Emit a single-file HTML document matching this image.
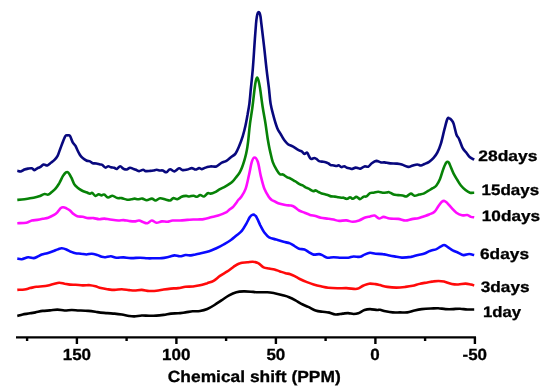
<!DOCTYPE html>
<html><head><meta charset="utf-8"><style>
html,body{margin:0;padding:0;background:#fff;}
body{width:550px;height:392px;overflow:hidden;}
svg{display:block;}
text{font-family:"Liberation Sans",Arial,sans-serif;font-weight:bold;fill:#000;stroke:#000;stroke-width:0.3px;text-rendering:geometricPrecision;}
</style></head><body>
<svg width="550" height="392" viewBox="0 0 550 392">
<rect width="550" height="392" fill="#fff"/>
<g fill="none" stroke-width="2.6" stroke-linejoin="round" stroke-linecap="butt">
<path d="M17.3,170.8 C17.9,170.9 19.7,171.6 20.9,171.4 C22.1,171.2 23.3,170.0 24.5,169.5 C25.7,169.0 27.0,168.8 28.2,168.6 C29.4,168.4 30.8,168.1 31.8,168.3 C32.9,168.6 33.6,170.1 34.5,170.1 C35.4,170.1 36.4,168.8 37.3,168.3 C38.2,167.8 39.0,167.8 40.0,167.2 C41.0,166.6 42.4,164.9 43.6,164.6 C44.8,164.3 46.1,165.7 47.3,165.4 C48.5,165.1 49.7,163.7 50.9,162.8 C52.1,161.9 53.4,161.1 54.5,159.9 C55.6,158.8 56.7,157.6 57.6,155.9 C58.5,154.2 59.1,151.8 60.0,149.5 C60.9,147.2 61.8,144.6 62.7,142.3 C63.6,140.0 64.7,137.1 65.5,135.9 C66.3,134.8 67.0,135.4 67.8,135.4 C68.5,135.4 69.2,134.8 70.0,135.9 C70.8,137.1 71.8,140.6 72.7,142.3 C73.6,144.0 74.7,144.5 75.5,145.9 C76.3,147.3 76.8,149.0 77.6,150.5 C78.3,152.0 79.2,153.7 80.0,155.0 C80.8,156.3 81.6,157.2 82.7,158.1 C83.8,159.0 85.2,159.9 86.4,160.5 C87.6,161.1 89.0,161.0 90.0,161.4 C91.0,161.8 91.6,162.8 92.7,163.2 C93.8,163.5 95.2,163.3 96.4,163.5 C97.6,163.7 99.0,164.3 100.0,164.5 C101.0,164.7 101.3,164.3 102.2,164.8 C103.1,165.3 104.5,167.4 105.5,167.6 C106.5,167.8 107.3,166.2 108.2,166.2 C109.1,166.1 109.9,167.0 110.9,167.3 C111.9,167.6 113.2,167.5 114.2,167.8 C115.2,168.1 115.9,169.2 116.9,168.9 C117.9,168.6 119.1,166.2 120.2,166.2 C121.3,166.2 122.3,168.1 123.4,168.7 C124.5,169.2 125.6,169.7 126.7,169.5 C127.8,169.3 128.9,167.9 130.0,167.8 C131.1,167.7 132.3,168.6 133.3,168.9 C134.3,169.2 135.0,169.4 136.0,169.8 C137.0,170.2 138.1,171.1 139.3,171.1 C140.5,171.1 142.0,169.8 143.1,169.8 C144.2,169.8 144.6,170.9 145.8,171.1 C147.0,171.3 148.9,171.0 150.2,170.9 C151.5,170.8 152.3,170.7 153.4,170.5 C154.5,170.3 155.6,169.8 156.7,169.8 C157.8,169.8 159.0,170.4 160.0,170.5 C161.0,170.6 161.6,170.2 162.7,170.5 C163.8,170.8 165.2,172.5 166.4,172.3 C167.6,172.1 168.7,169.3 170.0,169.2 C171.3,169.0 173.0,171.6 174.5,171.4 C176.0,171.2 177.7,168.5 179.1,168.3 C180.5,168.1 181.3,169.9 182.7,170.1 C184.1,170.3 185.8,169.8 187.3,169.5 C188.8,169.2 190.4,168.1 191.8,168.1 C193.2,168.1 194.3,169.5 195.5,169.5 C196.7,169.5 198.0,168.2 199.1,168.1 C200.2,168.0 200.4,169.3 201.8,169.1 C203.2,168.9 205.8,167.3 207.3,166.9 C208.8,166.5 209.4,166.5 210.9,166.4 C212.4,166.3 214.6,167.0 216.4,166.4 C218.2,165.8 220.1,163.6 221.8,162.7 C223.5,161.8 224.9,161.8 226.4,160.9 C227.9,160.0 229.4,158.5 230.9,157.3 C232.4,156.1 234.2,155.3 235.5,153.6 C236.8,151.9 237.5,150.2 238.7,147.3 C239.9,144.4 241.6,140.0 242.7,136.4 C243.8,132.8 244.7,129.2 245.5,125.5 C246.3,121.8 246.9,118.2 247.6,114.5 C248.2,110.8 248.8,108.1 249.4,103.6 C250.0,99.0 250.4,93.0 251.0,87.2 C251.6,81.4 252.2,75.7 252.8,68.8 C253.4,61.9 253.9,53.4 254.4,45.9 C254.9,38.4 255.6,28.9 256.0,24.0 C256.4,19.1 256.6,18.4 256.9,16.5 C257.2,14.7 257.5,13.7 257.8,12.9 C258.1,12.2 258.4,12.0 258.7,12.0 C259.0,12.0 259.3,12.2 259.6,12.9 C259.9,13.7 260.2,14.7 260.5,16.5 C260.8,18.4 260.8,19.1 261.4,24.0 C262.0,28.9 263.1,38.4 264.0,45.9 C264.9,53.4 265.7,61.9 266.5,68.8 C267.3,75.7 268.1,81.4 268.8,87.2 C269.5,93.0 269.8,98.7 270.6,103.6 C271.4,108.5 272.5,112.3 273.6,116.4 C274.7,120.5 276.1,125.2 277.3,128.2 C278.5,131.2 279.8,132.5 280.9,134.5 C282.0,136.5 283.0,138.4 284.2,140.0 C285.4,141.6 286.6,143.1 288.0,144.2 C289.4,145.3 291.0,145.5 292.7,146.4 C294.4,147.3 296.9,149.1 298.2,149.8 C299.5,150.6 299.8,150.6 300.5,150.9 C301.2,151.2 301.8,151.4 302.4,151.9 C303.0,152.4 303.6,153.9 304.4,154.0 C305.2,154.1 306.4,152.3 307.1,152.6 C307.8,152.9 308.1,154.5 308.7,155.6 C309.3,156.7 310.0,158.5 310.9,158.9 C311.8,159.3 313.3,158.0 314.2,158.0 C315.1,158.0 315.6,158.4 316.4,158.9 C317.2,159.4 318.2,160.7 319.1,161.1 C320.0,161.5 320.7,161.4 321.8,161.6 C322.9,161.8 324.5,161.9 325.6,162.2 C326.7,162.5 327.6,162.9 328.4,163.3 C329.2,163.8 329.6,164.6 330.5,164.9 C331.4,165.2 332.8,165.2 333.8,165.4 C334.8,165.6 335.7,166.0 336.5,166.0 C337.3,166.0 337.9,165.0 338.7,165.2 C339.5,165.4 340.5,166.9 341.4,167.1 C342.3,167.3 343.3,166.2 344.2,166.3 C345.1,166.4 345.9,167.4 346.9,167.8 C347.9,168.2 349.3,168.3 350.2,168.5 C351.1,168.7 351.4,169.1 352.3,168.9 C353.2,168.8 354.6,167.7 355.6,167.6 C356.7,167.5 357.7,168.0 358.6,168.2 C359.5,168.3 359.9,168.8 360.9,168.5 C361.9,168.2 363.3,166.7 364.5,166.4 C365.7,166.1 367.0,167.2 368.2,166.7 C369.4,166.2 370.4,164.3 371.8,163.3 C373.2,162.3 374.9,161.1 376.4,160.9 C377.9,160.8 379.5,162.2 380.9,162.4 C382.2,162.7 382.9,162.2 384.5,162.4 C386.1,162.6 388.2,163.2 390.2,163.4 C392.2,163.6 394.5,163.4 396.4,163.6 C398.3,163.8 399.8,163.9 401.8,164.5 C403.8,165.1 406.4,166.7 408.2,166.9 C410.0,167.1 411.2,165.9 412.7,165.5 C414.2,165.1 415.9,164.5 417.3,164.5 C418.7,164.5 419.7,165.6 420.9,165.5 C422.1,165.4 423.1,164.6 424.5,164.0 C425.9,163.4 427.6,162.8 429.1,161.8 C430.6,160.8 432.2,159.3 433.6,157.8 C435.0,156.3 436.1,155.1 437.3,152.7 C438.5,150.3 439.7,147.5 440.9,143.6 C442.1,139.7 443.4,133.2 444.5,129.1 C445.6,125.0 446.5,120.9 447.3,119.1 C448.1,117.3 448.4,118.0 449.1,118.2 C449.9,118.4 451.1,119.5 451.8,120.4 C452.6,121.3 452.8,121.2 453.6,123.6 C454.4,125.9 455.5,131.9 456.4,134.5 C457.3,137.1 458.1,136.8 459.1,139.1 C460.2,141.4 461.5,145.9 462.7,148.2 C463.9,150.5 465.2,151.2 466.4,152.7 C467.6,154.2 468.7,156.2 470.0,157.3 C471.3,158.5 473.5,159.2 474.2,159.6" stroke="#08087e"/>
<path d="M17.3,199.9 C18.5,199.8 22.4,199.5 24.5,199.2 C26.6,198.9 28.5,198.6 30.0,198.3 C31.5,198.1 32.1,198.0 33.6,197.7 C35.1,197.4 37.3,196.9 39.1,196.3 C40.9,195.7 43.0,194.4 44.5,194.1 C46.0,193.8 47.0,195.0 48.2,194.6 C49.4,194.2 50.6,192.9 51.8,191.9 C53.0,190.9 54.2,190.1 55.5,188.6 C56.8,187.1 58.0,185.3 59.3,183.2 C60.5,181.1 61.9,177.7 63.0,175.9 C64.1,174.1 65.1,172.9 66.0,172.3 C66.9,171.8 67.4,171.7 68.3,172.6 C69.2,173.5 70.4,175.8 71.4,177.7 C72.4,179.6 73.2,182.4 74.2,184.1 C75.2,185.8 76.3,186.6 77.6,187.7 C78.9,188.8 80.3,189.7 81.8,190.5 C83.3,191.3 85.0,191.8 86.4,192.3 C87.8,192.8 89.0,193.6 90.0,193.7 C91.0,193.8 91.3,192.5 92.2,192.9 C93.1,193.3 94.4,195.7 95.5,195.9 C96.6,196.1 97.7,194.4 98.7,194.3 C99.7,194.2 100.6,195.4 101.5,195.4 C102.4,195.4 103.1,194.2 104.2,194.6 C105.3,194.9 106.6,197.3 108.0,197.5 C109.4,197.7 110.9,195.6 112.4,195.7 C114.0,195.8 115.8,197.7 117.3,198.1 C118.8,198.5 120.0,197.8 121.6,198.1 C123.2,198.4 125.5,199.5 127.1,199.7 C128.7,199.9 130.1,199.4 131.4,199.2 C132.7,199.0 133.6,198.6 134.7,198.6 C135.8,198.6 136.7,199.2 138.0,199.2 C139.3,199.2 140.9,198.4 142.3,198.6 C143.8,198.8 145.1,200.3 146.7,200.3 C148.3,200.3 150.3,198.6 151.8,198.6 C153.3,198.6 154.1,200.6 155.5,200.5 C156.9,200.4 158.3,198.5 160.0,198.3 C161.7,198.1 163.8,199.1 165.5,199.5 C167.2,199.9 168.7,200.7 170.0,200.5 C171.3,200.3 172.2,198.3 173.4,198.1 C174.6,197.9 175.9,199.4 177.3,199.2 C178.7,199.0 180.2,197.4 181.6,196.8 C183.0,196.2 184.7,196.0 186.0,195.9 C187.3,195.8 188.0,196.5 189.3,196.5 C190.6,196.5 192.3,195.6 193.6,195.7 C194.9,195.8 195.8,196.9 196.9,196.8 C198.0,196.7 199.0,195.1 200.2,195.0 C201.4,194.9 202.7,196.8 204.0,196.5 C205.3,196.2 206.7,193.7 207.8,193.2 C208.9,192.7 209.4,193.7 210.5,193.6 C211.6,193.5 212.9,193.2 214.5,192.4 C216.1,191.7 218.2,190.1 220.0,189.1 C221.8,188.1 223.6,187.5 225.5,186.4 C227.4,185.3 229.8,184.0 231.5,182.6 C233.2,181.2 234.4,179.4 235.7,177.8 C237.0,176.2 238.1,175.0 239.2,173.3 C240.2,171.6 241.2,169.6 242.0,167.5 C242.8,165.4 243.6,162.9 244.3,160.6 C245.0,158.3 245.6,156.1 246.1,153.8 C246.6,151.5 247.0,149.5 247.4,146.9 C247.8,144.3 248.1,142.1 248.5,138.2 C248.9,134.3 249.3,128.8 250.0,123.6 C250.7,118.4 251.6,113.2 252.4,107.3 C253.2,101.4 254.1,92.5 254.7,88.0 C255.3,83.5 255.5,82.2 255.9,80.5 C256.3,78.8 256.8,77.6 257.2,77.6 C257.6,77.6 258.0,78.8 258.5,80.5 C259.0,82.2 259.3,83.5 260.0,88.0 C260.7,92.5 261.8,101.4 262.7,107.3 C263.6,113.2 264.7,118.4 265.5,123.6 C266.3,128.8 266.9,133.6 267.6,138.2 C268.4,142.8 269.1,147.0 270.0,150.9 C270.9,154.8 271.6,158.6 272.7,161.8 C273.8,165.0 275.6,168.1 276.8,170.2 C278.0,172.3 278.9,173.5 279.9,174.2 C280.9,174.9 282.0,174.2 282.8,174.4 C283.6,174.6 283.8,175.0 284.5,175.5 C285.2,176.0 286.4,176.8 287.3,177.3 C288.2,177.8 288.7,177.7 290.0,178.3 C291.3,179.0 293.3,180.2 295.0,181.2 C296.7,182.2 298.7,183.7 300.0,184.4 C301.3,185.1 301.8,184.9 302.7,185.4 C303.6,185.9 304.5,186.9 305.5,187.4 C306.5,187.9 307.7,188.2 308.7,188.7 C309.7,189.2 310.7,190.0 311.5,190.4 C312.3,190.8 312.9,191.1 313.6,191.1 C314.3,191.1 315.0,190.2 315.8,190.4 C316.6,190.6 317.5,191.5 318.5,192.0 C319.5,192.5 320.6,193.2 321.8,193.6 C323.0,194.0 324.5,194.1 325.6,194.4 C326.7,194.7 327.5,195.0 328.4,195.3 C329.3,195.6 330.0,196.2 331.1,196.4 C332.2,196.6 333.7,196.5 334.9,196.6 C336.1,196.7 337.1,197.0 338.2,197.2 C339.3,197.4 340.5,197.6 341.4,197.7 C342.3,197.8 342.8,197.5 343.6,197.7 C344.4,197.9 345.6,198.7 346.3,198.8 C347.0,198.9 347.4,198.8 348.0,198.5 C348.6,198.2 349.4,197.1 350.2,197.2 C351.0,197.2 351.9,198.9 352.9,198.8 C353.9,198.8 355.3,197.0 356.2,196.9 C357.1,196.8 357.6,197.6 358.3,198.0 C359.0,198.4 359.3,199.3 360.2,199.1 C361.1,198.9 362.6,197.1 363.6,196.7 C364.6,196.2 365.3,197.0 366.4,196.4 C367.5,195.8 368.8,193.7 370.0,193.1 C371.2,192.5 372.2,192.9 373.6,192.7 C375.0,192.5 376.7,191.8 378.2,191.8 C379.7,191.8 381.2,192.6 382.7,192.7 C384.2,192.8 386.2,192.5 387.3,192.4 C388.4,192.3 388.1,191.8 389.1,192.2 C390.2,192.5 392.1,194.0 393.6,194.5 C395.1,195.0 396.7,194.9 398.2,195.1 C399.7,195.3 401.3,195.3 402.7,195.5 C404.1,195.7 405.0,196.7 406.4,196.4 C407.8,196.1 409.5,193.7 410.9,193.6 C412.2,193.5 413.1,195.7 414.5,195.8 C415.9,196.0 417.6,194.9 419.1,194.5 C420.6,194.1 422.1,194.2 423.6,193.6 C425.1,193.0 426.7,191.8 428.2,190.9 C429.7,190.0 431.3,189.1 432.7,188.2 C434.1,187.3 435.2,187.0 436.4,185.5 C437.6,184.0 438.8,182.0 440.0,179.1 C441.2,176.2 442.5,171.0 443.6,168.2 C444.7,165.4 445.5,163.4 446.4,162.4 C447.2,161.4 447.9,161.6 448.7,162.4 C449.4,163.2 450.1,165.4 450.9,167.3 C451.7,169.2 452.5,171.5 453.6,173.6 C454.7,175.7 456.1,178.0 457.3,180.0 C458.5,182.0 459.5,183.8 460.9,185.5 C462.3,187.2 464.0,188.8 465.5,190.0 C467.0,191.2 468.6,192.2 470.0,192.7 C471.4,193.1 473.5,192.7 474.2,192.7" stroke="#078207"/>
<path d="M17.3,223.2 C18.8,223.1 24.0,223.2 26.4,222.8 C28.8,222.4 30.0,221.0 31.8,220.5 C33.6,220.0 35.5,220.2 37.3,219.9 C39.1,219.6 40.9,219.2 42.7,218.8 C44.5,218.4 46.4,218.3 48.2,217.7 C50.0,217.1 52.1,216.1 53.6,215.2 C55.1,214.3 56.1,213.5 57.3,212.3 C58.5,211.1 59.9,208.8 60.9,207.9 C61.9,207.1 62.2,207.1 63.1,207.2 C64.0,207.3 65.2,207.8 66.4,208.3 C67.6,208.9 68.8,209.5 70.0,210.5 C71.2,211.5 72.4,213.1 73.6,214.1 C74.8,215.1 75.8,215.9 77.3,216.3 C78.8,216.8 80.9,216.5 82.7,216.8 C84.5,217.1 86.4,217.9 88.2,218.1 C90.0,218.3 91.8,217.9 93.6,218.1 C95.4,218.3 97.3,219.1 99.1,219.2 C100.9,219.3 102.7,218.5 104.5,218.6 C106.3,218.7 107.7,219.2 110.0,219.5 C112.3,219.8 115.9,220.4 118.2,220.5 C120.5,220.6 121.8,220.0 123.6,220.1 C125.4,220.2 127.3,220.8 129.1,221.0 C130.9,221.2 132.8,221.5 134.5,221.4 C136.2,221.3 137.6,220.3 139.1,220.5 C140.6,220.7 142.2,221.9 143.6,222.3 C145.0,222.8 145.9,223.5 147.3,223.2 C148.7,222.9 150.3,220.6 151.8,220.5 C153.3,220.4 154.7,222.7 156.4,222.8 C158.1,223.0 160.0,221.6 161.8,221.4 C163.6,221.2 165.5,221.8 167.3,221.7 C169.1,221.5 170.6,220.7 172.7,220.5 C174.8,220.3 177.6,220.6 180.0,220.5 C182.4,220.4 184.9,220.1 187.3,219.9 C189.7,219.7 192.4,219.6 194.5,219.5 C196.6,219.4 198.5,219.5 200.0,219.4 C201.5,219.3 201.8,219.4 203.6,219.1 C205.4,218.8 208.5,217.9 210.9,217.3 C213.3,216.7 215.8,216.3 218.2,215.5 C220.6,214.7 223.6,213.7 225.5,212.7 C227.4,211.7 228.3,210.4 229.5,209.5 C230.7,208.6 231.5,208.4 232.7,207.3 C233.8,206.2 235.5,203.9 236.4,202.7 C237.3,201.5 237.4,200.9 238.2,200.0 C238.9,199.1 239.7,199.1 240.9,197.3 C242.1,195.5 244.1,192.9 245.5,189.1 C246.9,185.3 248.0,179.1 249.1,174.5 C250.2,169.9 250.9,164.6 251.8,161.8 C252.7,159.0 253.5,157.5 254.5,157.5 C255.5,157.5 256.7,158.7 257.8,161.8 C258.9,165.0 259.8,171.9 260.9,176.4 C262.0,180.9 263.1,185.6 264.5,189.1 C265.9,192.6 267.9,195.5 269.1,197.3 C270.3,199.1 271.1,199.4 271.8,200.0 C272.6,200.6 272.5,200.2 273.6,200.8 C274.7,201.4 276.2,202.6 278.2,203.3 C280.2,204.0 283.4,204.6 285.5,205.0 C287.6,205.4 289.4,205.3 290.9,205.6 C292.4,205.9 293.1,206.2 294.5,207.0 C295.9,207.8 297.4,209.6 299.1,210.5 C300.8,211.4 302.7,212.0 304.5,212.7 C306.3,213.4 308.2,214.3 310.0,214.9 C311.8,215.5 313.7,215.5 315.5,216.0 C317.3,216.5 318.8,217.4 320.9,217.8 C323.0,218.2 326.1,218.4 328.2,218.7 C330.3,219.0 331.8,219.2 333.6,219.6 C335.4,220.0 337.0,220.8 339.1,220.9 C341.2,221.0 344.1,220.2 346.4,220.4 C348.7,220.6 350.6,221.8 352.7,221.8 C354.8,221.8 357.1,221.1 359.1,220.4 C361.1,219.7 362.7,218.5 364.5,217.8 C366.3,217.1 368.3,216.8 370.0,216.4 C371.7,216.0 373.0,215.2 374.5,215.5 C376.0,215.8 377.6,218.3 379.1,218.5 C380.6,218.7 381.9,216.9 383.6,216.9 C385.4,216.9 387.2,218.2 389.6,218.5 C392.0,218.8 395.6,218.6 398.2,218.9 C400.8,219.2 403.2,220.5 405.5,220.5 C407.8,220.5 409.7,219.5 411.8,219.1 C413.9,218.7 416.2,218.6 418.2,218.2 C420.2,217.8 421.8,217.0 423.6,216.4 C425.4,215.8 427.3,215.3 429.1,214.5 C430.9,213.7 433.0,213.2 434.5,211.8 C436.0,210.5 437.0,208.1 438.2,206.4 C439.4,204.7 440.8,202.7 441.8,201.8 C442.9,200.9 443.6,200.7 444.5,200.9 C445.4,201.1 446.1,201.9 447.3,203.1 C448.5,204.3 450.3,206.6 451.8,208.2 C453.3,209.8 454.7,211.5 456.4,212.7 C458.1,213.9 460.2,214.9 462.0,215.3 C463.8,215.7 465.8,214.8 467.3,215.1 C468.8,215.4 469.8,216.5 470.9,216.9 C472.0,217.3 473.6,217.2 474.2,217.3" stroke="#ff0cff"/>
<path d="M17.3,258.6 C18.1,258.7 20.0,259.4 21.8,259.2 C23.6,259.0 26.2,257.4 28.2,257.2 C30.2,257.0 32.1,258.2 33.6,258.1 C35.1,258.0 35.9,257.4 37.3,256.8 C38.7,256.2 40.1,255.2 41.8,254.6 C43.5,254.0 45.3,253.8 47.3,253.2 C49.3,252.6 51.8,251.7 53.6,251.0 C55.4,250.3 56.8,249.6 58.2,249.2 C59.6,248.8 60.4,248.2 61.8,248.3 C63.2,248.4 64.9,248.9 66.4,249.5 C67.9,250.1 69.4,251.1 70.9,251.7 C72.4,252.3 73.8,252.9 75.5,253.2 C77.2,253.5 79.1,253.5 80.9,253.7 C82.7,253.9 84.6,254.5 86.4,254.5 C88.2,254.5 90.0,253.6 91.8,253.7 C93.6,253.8 95.6,254.5 97.3,255.0 C99.0,255.5 100.4,256.4 101.8,256.8 C103.2,257.2 104.0,257.3 105.5,257.2 C107.0,257.1 109.1,256.2 110.9,256.3 C112.7,256.4 114.3,257.5 116.4,257.7 C118.5,257.9 121.2,257.3 123.6,257.4 C126.0,257.5 128.2,258.1 130.9,258.1 C133.6,258.2 137.3,257.7 140.0,257.7 C142.7,257.7 144.9,258.2 147.3,258.3 C149.7,258.4 152.1,258.3 154.5,258.3 C156.9,258.3 159.4,258.4 161.8,258.1 C164.2,257.9 167.0,257.2 169.1,256.8 C171.2,256.4 172.7,255.5 174.5,255.4 C176.3,255.3 178.2,256.4 180.0,256.3 C181.8,256.2 183.7,255.2 185.5,255.0 C187.3,254.8 189.2,255.5 190.9,255.4 C192.6,255.3 194.0,254.8 195.5,254.5 C197.0,254.2 197.7,253.9 200.0,253.4 C202.3,252.9 206.4,252.2 209.1,251.3 C211.8,250.4 214.0,249.3 216.4,248.2 C218.8,247.1 221.2,245.9 223.6,244.5 C226.0,243.1 228.8,241.5 230.9,240.0 C233.0,238.5 234.6,237.0 236.4,235.5 C238.2,234.0 240.1,232.9 241.8,230.9 C243.5,228.9 245.1,225.9 246.4,223.6 C247.7,221.3 248.7,218.8 249.7,217.3 C250.7,215.8 251.6,214.9 252.6,214.7 C253.6,214.5 254.5,214.3 255.8,216.1 C257.1,217.9 258.9,222.5 260.3,225.3 C261.8,228.1 263.0,230.7 264.5,232.7 C266.0,234.7 267.1,236.2 269.1,237.3 C271.1,238.5 274.0,238.8 276.4,239.6 C278.8,240.3 281.3,241.2 283.6,241.8 C285.9,242.4 288.2,242.7 290.0,243.4 C291.8,244.1 293.0,245.1 294.5,246.0 C296.0,246.9 297.4,248.2 299.1,248.8 C300.8,249.4 302.8,248.9 304.5,249.5 C306.2,250.1 307.6,251.5 309.1,252.3 C310.6,253.2 311.9,254.3 313.6,254.6 C315.3,254.9 317.6,254.0 319.1,254.1 C320.6,254.2 321.3,254.8 322.7,255.4 C324.1,256.0 325.5,257.4 327.3,257.7 C329.1,258.0 331.3,257.2 333.6,257.2 C335.9,257.2 338.5,257.6 340.9,257.7 C343.3,257.8 346.1,257.9 348.2,257.7 C350.3,257.5 351.6,256.6 353.6,256.5 C355.6,256.4 358.2,257.1 360.0,256.8 C361.8,256.5 362.8,255.3 364.5,254.6 C366.2,253.9 368.2,253.0 370.0,252.8 C371.8,252.7 373.4,253.5 375.5,253.7 C377.6,253.9 380.6,253.8 382.7,254.1 C384.8,254.3 386.2,254.8 388.2,255.2 C390.2,255.6 392.2,256.0 394.5,256.4 C396.8,256.8 399.1,257.5 401.8,257.6 C404.5,257.7 408.2,257.3 410.9,256.9 C413.6,256.4 415.9,255.4 418.2,254.9 C420.5,254.4 422.5,254.3 424.5,253.6 C426.5,252.9 428.0,251.7 430.0,250.9 C432.0,250.2 434.6,249.8 436.4,249.1 C438.2,248.3 439.5,247.1 440.9,246.4 C442.2,245.7 443.3,244.9 444.5,245.1 C445.7,245.2 446.8,246.4 448.2,247.3 C449.6,248.2 451.0,249.5 452.7,250.4 C454.4,251.3 456.4,251.9 458.2,252.7 C460.0,253.5 461.8,254.9 463.6,255.1 C465.4,255.3 467.3,254.0 469.1,254.0 C470.9,254.0 473.4,254.9 474.2,255.1" stroke="#0a0aff"/>
<path d="M17.3,289.9 C18.5,289.8 22.4,289.8 24.5,289.5 C26.6,289.2 28.0,288.6 30.0,288.1 C32.0,287.7 34.3,287.1 36.4,286.8 C38.5,286.5 40.7,286.5 42.7,286.3 C44.7,286.1 46.4,285.8 48.2,285.4 C50.0,285.0 51.8,284.5 53.6,284.1 C55.4,283.7 57.3,282.9 59.1,282.8 C60.9,282.7 62.7,283.4 64.5,283.7 C66.3,284.0 68.2,284.4 70.0,284.6 C71.8,284.8 73.4,284.7 75.5,284.8 C77.6,284.9 80.3,285.3 82.7,285.4 C85.1,285.5 87.9,285.0 90.0,285.2 C92.1,285.4 93.7,285.8 95.5,286.3 C97.3,286.8 98.9,287.6 100.9,288.1 C102.9,288.6 105.0,288.9 107.3,289.2 C109.6,289.5 112.1,289.9 114.5,289.9 C116.9,289.9 119.4,289.2 121.8,289.2 C124.2,289.2 127.0,289.9 129.1,290.1 C131.2,290.3 132.4,290.5 134.5,290.5 C136.6,290.5 139.4,289.8 141.8,289.9 C144.2,290.0 146.7,290.9 149.1,291.0 C151.5,291.1 154.0,291.1 156.4,290.8 C158.8,290.6 161.2,289.9 163.6,289.5 C166.0,289.1 168.5,288.8 170.9,288.6 C173.3,288.4 175.8,288.4 178.2,288.1 C180.6,287.8 183.1,287.1 185.5,286.8 C187.9,286.5 190.3,286.8 192.7,286.5 C195.1,286.2 197.6,285.9 200.0,285.3 C202.4,284.8 205.0,283.9 207.3,283.2 C209.6,282.4 211.5,282.0 213.6,280.8 C215.7,279.6 217.7,277.5 220.0,275.9 C222.3,274.3 225.0,272.9 227.3,271.4 C229.6,269.9 231.5,268.2 233.6,266.8 C235.7,265.4 237.7,263.9 240.0,263.2 C242.3,262.4 245.2,262.6 247.3,262.3 C249.4,262.1 250.9,261.6 252.7,261.7 C254.5,261.8 256.4,262.2 258.2,263.2 C260.0,264.1 261.8,266.5 263.6,267.4 C265.4,268.3 267.3,268.2 269.1,268.6 C270.9,269.0 272.7,269.0 274.5,269.5 C276.3,270.0 278.2,270.8 280.0,271.4 C281.8,272.0 283.8,272.7 285.5,273.2 C287.2,273.7 288.6,273.6 290.3,274.2 C292.0,274.8 293.7,275.7 295.5,276.6 C297.3,277.5 299.1,278.6 300.9,279.5 C302.7,280.4 304.3,281.1 306.4,281.9 C308.5,282.7 311.2,283.8 313.6,284.5 C316.0,285.2 318.5,285.8 320.9,286.3 C323.3,286.8 325.5,287.4 328.2,287.7 C330.9,288.0 334.3,288.2 337.3,288.3 C340.3,288.4 343.4,288.0 346.4,288.1 C349.4,288.2 353.4,289.0 355.5,289.0 C357.6,289.0 357.8,288.7 359.1,288.1 C360.5,287.5 361.9,286.2 363.6,285.5 C365.3,284.8 367.1,283.9 369.1,283.7 C371.1,283.5 373.7,283.9 375.5,284.1 C377.3,284.3 378.0,284.6 380.0,285.1 C382.0,285.6 384.6,286.5 387.3,286.9 C390.0,287.3 393.4,287.6 396.4,287.6 C399.4,287.6 402.8,287.2 405.5,286.9 C408.2,286.6 410.3,286.3 412.7,285.8 C415.1,285.3 417.6,284.2 420.0,283.7 C422.4,283.1 425.1,282.9 427.3,282.5 C429.6,282.1 431.6,281.6 433.5,281.4 C435.4,281.1 436.8,281.0 438.5,281.0 C440.2,281.0 441.8,281.1 444.0,281.6 C446.2,282.1 449.4,283.5 451.8,284.0 C454.2,284.5 455.9,284.6 458.2,284.5 C460.5,284.4 463.4,283.6 465.5,283.6 C467.6,283.6 469.4,284.2 470.9,284.5 C472.3,284.8 473.6,285.3 474.2,285.5" stroke="#ff0a0a"/>
<path d="M17.3,316.0 C18.2,315.8 20.6,314.9 22.7,314.5 C24.8,314.1 27.9,313.7 30.0,313.3 C32.1,312.9 33.4,312.8 35.5,312.4 C37.6,312.0 40.3,311.2 42.7,310.9 C45.1,310.6 47.6,310.6 50.0,310.4 C52.4,310.2 54.9,309.6 57.3,309.6 C59.7,309.6 62.1,310.4 64.5,310.5 C66.9,310.6 69.4,310.0 71.8,310.0 C74.2,310.0 76.4,310.4 79.1,310.5 C81.8,310.6 85.5,310.7 88.2,310.9 C90.9,311.1 93.5,311.5 95.5,311.8 C97.5,312.1 98.5,312.4 100.5,312.6 C102.5,312.8 105.0,312.9 107.3,313.1 C109.6,313.3 112.1,313.4 114.5,313.6 C116.9,313.8 119.4,314.1 121.8,314.5 C124.2,314.9 127.0,315.7 129.1,316.0 C131.2,316.3 132.4,316.5 134.5,316.4 C136.6,316.3 139.4,315.6 141.8,315.5 C144.2,315.4 146.7,315.8 149.1,315.8 C151.5,315.8 154.0,315.8 156.4,315.6 C158.8,315.5 161.2,315.2 163.6,314.9 C166.0,314.6 168.5,313.9 170.9,313.6 C173.3,313.3 175.8,313.5 178.2,313.3 C180.6,313.1 183.1,312.7 185.5,312.4 C187.9,312.1 190.3,311.5 192.7,311.3 C195.1,311.1 197.6,311.4 200.0,311.0 C202.4,310.6 204.9,310.0 207.3,309.0 C209.7,308.0 212.1,306.5 214.5,305.0 C216.9,303.5 219.4,301.7 221.8,300.1 C224.2,298.5 226.7,296.7 229.1,295.4 C231.5,294.1 234.0,293.0 236.4,292.3 C238.8,291.6 241.2,291.5 243.6,291.4 C246.0,291.3 248.5,291.5 250.9,291.7 C253.3,291.9 255.5,292.2 258.2,292.3 C260.9,292.4 264.6,292.2 267.3,292.3 C270.0,292.4 272.1,292.8 274.5,293.2 C276.9,293.6 279.4,294.3 281.8,295.0 C284.2,295.7 286.8,296.3 289.1,297.2 C291.4,298.1 293.5,299.2 295.5,300.3 C297.5,301.4 298.8,302.5 300.9,303.6 C303.0,304.7 305.8,305.8 308.2,306.9 C310.6,308.0 313.1,309.7 315.5,310.5 C317.9,311.3 320.6,311.5 322.7,311.8 C324.8,312.1 326.1,311.9 328.2,312.4 C330.3,312.8 333.1,314.3 335.5,314.5 C337.9,314.7 340.6,313.8 342.7,313.6 C344.8,313.4 346.4,313.0 348.2,313.1 C350.0,313.2 351.9,314.0 353.6,314.0 C355.3,314.0 356.4,314.0 358.2,313.3 C360.0,312.6 362.5,310.7 364.5,310.0 C366.5,309.3 367.9,309.1 370.0,309.1 C372.1,309.1 375.6,309.9 377.3,310.0 C379.0,310.1 378.6,309.6 380.0,309.8 C381.4,310.0 383.4,310.9 385.5,311.3 C387.6,311.7 390.3,312.2 392.7,312.4 C395.1,312.6 397.6,312.4 400.0,312.4 C402.4,312.4 404.9,312.7 407.3,312.4 C409.7,312.1 412.1,311.1 414.5,310.5 C416.9,309.9 419.1,309.4 421.8,309.1 C424.5,308.8 428.2,308.6 430.9,308.5 C433.6,308.4 435.8,308.1 438.2,308.2 C440.6,308.3 443.1,309.0 445.5,309.1 C447.9,309.2 450.3,309.2 452.7,309.1 C455.1,309.0 457.6,308.6 460.0,308.7 C462.4,308.8 464.9,309.4 467.3,309.5 C469.7,309.6 473.1,309.5 474.2,309.5" stroke="#000000"/>
</g>
<g stroke="#000" stroke-width="2.4" fill="none">
<line x1="16" y1="337.4" x2="476" y2="337.4"/>
<line x1="76.9" y1="337" x2="76.9" y2="344"/>
<line x1="176.4" y1="337" x2="176.4" y2="344"/>
<line x1="275.9" y1="337" x2="275.9" y2="344"/>
<line x1="375.4" y1="337" x2="375.4" y2="344"/>
<line x1="474.9" y1="337" x2="474.9" y2="344"/>
<line x1="27.1" y1="337" x2="27.1" y2="341"/>
<line x1="126.6" y1="337" x2="126.6" y2="341"/>
<line x1="226.1" y1="337" x2="226.1" y2="341"/>
<line x1="325.6" y1="337" x2="325.6" y2="341"/>
<line x1="425.1" y1="337" x2="425.1" y2="341"/>
</g>
<text x="478.30" y="160.70" font-size="15.10" textLength="59.12" lengthAdjust="spacingAndGlyphs">28days</text>
<text x="481.50" y="195.20" font-size="15.10" textLength="57.59" lengthAdjust="spacingAndGlyphs">15days</text>
<text x="481.80" y="221.00" font-size="15.10" textLength="58.36" lengthAdjust="spacingAndGlyphs">10days</text>
<text x="480.00" y="259.30" font-size="15.10" textLength="49.02" lengthAdjust="spacingAndGlyphs">6days</text>
<text x="480.80" y="292.20" font-size="15.10" textLength="48.80" lengthAdjust="spacingAndGlyphs">3days</text>
<text x="483.00" y="316.50" font-size="15.10" textLength="38.08" lengthAdjust="spacingAndGlyphs">1day</text>
<text x="62.70" y="359.80" font-size="16.10" textLength="28.33" lengthAdjust="spacingAndGlyphs">150</text>
<text x="162.10" y="359.80" font-size="16.10" textLength="28.33" lengthAdjust="spacingAndGlyphs">100</text>
<text x="266.40" y="359.80" font-size="16.10" textLength="18.89" lengthAdjust="spacingAndGlyphs">50</text>
<text x="370.30" y="359.80" font-size="16.10" textLength="9.44" lengthAdjust="spacingAndGlyphs">0</text>
<text x="462.50" y="359.80" font-size="16.10" textLength="24.54" lengthAdjust="spacingAndGlyphs">-50</text>
<text x="167.80" y="381.70" font-size="16.10" textLength="172.94" lengthAdjust="spacingAndGlyphs">Chemical shift (PPM)</text>
</svg>
</body></html>
